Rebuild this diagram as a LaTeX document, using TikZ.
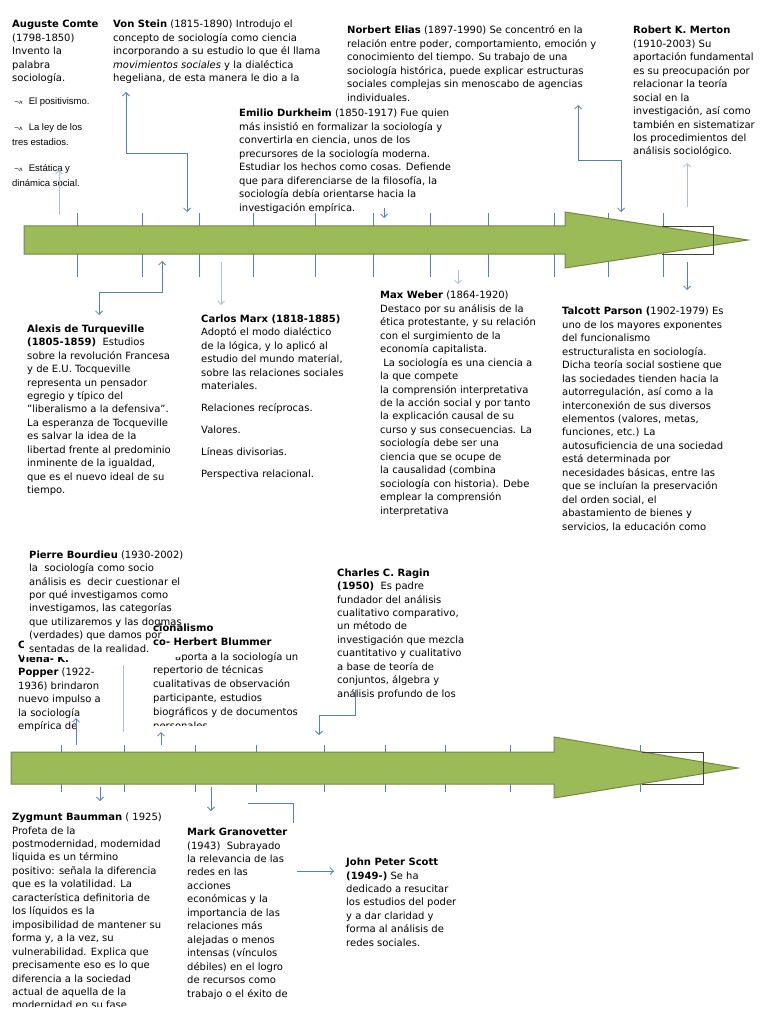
\documentclass[tikz,border=0pt]{standalone}
\usepackage{fontspec}
\setmainfont{DejaVu Sans}
\newfontfamily\arialfont{Liberation Sans}
\usetikzlibrary{arrows.meta}

\definecolor{timegreen}{HTML}{9BBB59}
\definecolor{timeedge}{HTML}{71893F}
\definecolor{linkblue}{HTML}{4F81BD}
\definecolor{paleblue}{HTML}{A9BFDC}

% small Wingdings-like list mark
\newcommand{\combul}{{\rmfamily\fontsize{6}{7}\selectfont ¬ʌ}}

\begin{document}
\begin{tikzpicture}[x=1pt, y=-1pt,
      >={Straight Barb[length=3.5pt,width=7pt]},
      txt/.style={font=\fontsize{10}{13.45}\selectfont, align=left,
                  anchor=north west, inner sep=0pt},
      bul/.style={font=\arialfont\fontsize{9.5}{15}\selectfont, align=left,
                  anchor=north west, inner sep=0pt},
      tick/.style={draw=linkblue, line width=0.7pt},
      link/.style={draw=linkblue, line width=0.8pt},
      faint/.style={draw=paleblue, line width=0.8pt},
      timeline/.style={fill=timegreen, draw=timeedge, line width=1pt},
      endbox/.style={draw=black!75, line width=0.6pt}]

    \useasboundingbox (0,0) rectangle (768,1024);

    % ===== Timeline 1 =====
    \foreach \tx in {77,142,199,253,315,373,430,488,554,608,663}
        \draw[tick] (\tx,213) -- (\tx,277);
    \path[timeline] (24,226) -- (565,226) -- (565,212) -- (748,240)
        -- (565,268) -- (565,254) -- (24,254) -- cycle;
    \draw[endbox] (662,226) -- (713,226) -- (713,254) -- (662,254);

    % ===== Above timeline 1 =====
    \node[txt] (comte) at (12,18.3) {\strut\textbf{Auguste Comte}\\(1798-1850)\\Invento la\\palabra\\sociología.};
    \node[bul] (comteList) at (12,94.3) {\strut\hspace*{2pt}\combul\hspace{6pt}El positivismo.\\[11pt]
        \hspace*{2pt}\combul\hspace{6pt}La ley de los\\tres estadios.\\[11pt]
        \hspace*{2pt}\combul\hspace{6pt}Estática y\\dinámica social.};

    \node[txt] (stein) at (113,18.3) {\strut\textbf{Von Stein} (1815-1890) Introdujo el\\
        concepto de sociología como ciencia\\
        incorporando a su estudio lo que él llama\\
        \textit{movimientos sociales} y la dialéctica\\
        hegeliana, de esta manera le dio a la};

    \node[txt] (durkheim) at (239,107.3) {\strut\textbf{Emilio Durkheim} (1850-1917) Fue quien\\
        más insistió en formalizar la sociología y\\
        convertirla en ciencia, unos de los\\
        precursores de la sociología moderna.\\
        Estudiar los hechos como cosas. Defiende\\
        que para diferenciarse de la filosofía, la\\
        sociología debía orientarse hacia la\\
        investigación empírica.};

    \node[txt] (elias) at (347,24.3) {\strut\textbf{Norbert Elias} (1897-1990) Se concentró en la\\
        relación entre poder, comportamiento, emoción y\\
        conocimiento del tiempo. Su trabajo de una\\
        sociología histórica, puede explicar estructuras\\
        sociales complejas sin menoscabo de agencias\\
        individuales.};

    \node[txt] (merton) at (633,24.3) {\strut\textbf{Robert K. Merton}\\(1910-2003) Su\\
        aportación fundamental\\es su preocupación por\\relacionar la teoría\\
        social en la\\investigación, así como\\también en sistematizar\\
        los procedimientos del\\análisis sociológico.};

    % ===== Below timeline 1 =====
    \node[txt] (turq) at (27,322.6) {\strut\textbf{Alexis de Turqueville}\\
        \textbf{(1805-1859)}~ Estudios\\
        sobre la revolución Francesa\\
        y de E.U. Tocqueville\\
        representa un pensador\\
        egregio y típico del\\
        "liberalismo a la defensiva".\\
        La esperanza de Tocqueville\\
        es salvar la idea de la\\
        libertad frente al predominio\\
        inminente de la igualdad,\\
        que es el nuevo ideal de su\\
        tiempo.};

    \node[txt] (marx) at (201,312.6) {\strut\textbf{Carlos Marx (1818-1885)}\\
        Adoptó el modo dialéctico\\
        de la lógica, y lo aplicó al\\
        estudio del mundo material,\\
        sobre las relaciones sociales\\
        materiales.\\[8.5pt]
        Relaciones recíprocas.\\[8.5pt]
        Valores.\\[8.5pt]
        Líneas divisorias.\\[8.5pt]
        Perspectiva relacional.};

    \node[txt] (weber) at (380,289.3) {\strut\textbf{Max Weber} (1864-1920)\\
        Destaco por su análisis de la\\
        ética protestante, y su relación\\
        con el surgimiento de la\\
        economía capitalista.\\
        \ La sociología es una ciencia a\\
        la que compete\\
        la comprensión interpretativa\\
        de la acción social y por tanto\\
        la explicación causal de su\\
        curso y sus consecuencias. La\\
        sociología debe ser una\\
        ciencia que se ocupe de\\
        la causalidad (combina\\
        sociología con historia). Debe\\
        emplear la comprensión\\
        interpretativa};

    \node[txt] (parson) at (562,305.3) {\strut\textbf{Talcott Parson (}1902-1979) Es\\
        uno de los mayores exponentes\\
        del funcionalismo\\
        estructuralista en sociología.\\
        Dicha teoría social sostiene que\\
        las sociedades tienden hacia la\\
        autorregulación, así como a la\\
        interconexión de sus diversos\\
        elementos (valores, metas,\\
        funciones, etc.) La\\
        autosuficiencia de una sociedad\\
        está determinada por\\
        necesidades básicas, entre las\\
        que se incluían la preservación\\
        del orden social, el\\
        abastamiento de bienes y\\
        servicios, la educación como};

    % ===== Connectors, part 1 =====
    \coordinate (comteLo) at (59,215);   \coordinate (comteHi) at (59,170);
    \coordinate (steinHi) at (126,92);   \coordinate (steinLo) at (187,212);
    \coordinate (durkHi) at (384,208);   \coordinate (durkLo) at (384,218);
    \coordinate (eliasHi) at (578,105);  \coordinate (eliasLo) at (621,212);
    \coordinate (mertLo) at (687,207);   \coordinate (mertHi) at (687,163);
    \coordinate (turqHi) at (162,261);   \coordinate (turqLo) at (99,315);
    \coordinate (marxHi) at (221,262);   \coordinate (marxLo) at (221,305);
    \coordinate (weberHi) at (458,270);  \coordinate (weberLo) at (458,284);
    \coordinate (parsHi) at (687,262);   \coordinate (parsLo) at (687,290);

    \draw[faint, ->] (comteLo) -- (comteHi);
    \draw[link, <->] (steinHi) -- ++(0,61) -| (steinLo);
    \draw[link, ->] (durkHi) -- (durkLo);
    \draw[link, <->] (eliasHi) -- ++(0,55) -| (eliasLo);
    \draw[faint, ->] (mertLo) -- (mertHi);
    \draw[link, <->] (turqHi) -- ++(0,31) -| (turqLo);
    \draw[faint, ->] (marxHi) -- (marxLo);
    \draw[faint, ->] (weberHi) -- (weberLo);
    \draw[link, ->] (parsHi) -- (parsLo);

    % ===== Timeline 2 =====
    \foreach \tx in {61,124,195,256,324,385,445,510,640}
        \draw[tick] (\tx,745) -- (\tx,792);
    \path[timeline] (11,752) -- (554,752) -- (554,737) -- (738,768)
        -- (554,798) -- (554,784) -- (11,784) -- cycle;
    \draw[endbox] (642,752) -- (703,752) -- (703,784) -- (642,784);

    % ===== Above timeline 2 =====
    \node[txt] (popper) at (18,639.3) {\strut\textbf{Círculo de}\\
        \textbf{Viena- K.}\\
        \textbf{Popper} (1922-\\
        1936) brindaron\\
        nuevo impulso a\\
        la sociología\\
        empírica de};

    \node[txt, font=\fontsize{10}{13.8}\selectfont] (blumLow) at (175,650.3) {\strut aporta a la sociología un\\
        \hspace*{-22pt}repertorio de técnicas\\
        \hspace*{-22pt}cualitativas de observación\\
        \hspace*{-22pt}participante, estudios\\
        \hspace*{-22pt}biográficos y de documentos\\
        \hspace*{-22pt}personales};
    \fill[white] (150,725.5) rectangle (300,733);

    % Bourdieu box covers its neighbours
    \fill[white] (24,545) rectangle (180,656.5);
    \node[txt] (bourdieu) at (29,548.5) {\strut\textbf{Pierre Bourdieu} (1930-2002)\\
        la~ sociología como socio\\
        análisis es~ decir cuestionar el\\
        por qué investigamos como\\
        investigamos, las categorías\\
        que utilizaremos y las dogmas\\
        (verdades) que damos por\\
        sentadas de la realidad.};

    \node[txt] (blumTop) at (153,622.3) {\strut\textbf{cionalismo}\\\textbf{co- Herbert Blummer}};

    \node[txt] (ragin) at (337,566.5) {\strut\textbf{Charles C. Ragin}\\
        \textbf{(1950)}~ Es padre\\
        fundador del análisis\\
        cualitativo comparativo,\\
        un método de\\
        investigación que mezcla\\
        cuantitativo y cualitativo\\
        a base de teoría de\\
        conjuntos, álgebra y\\
        análisis profundo de los};

    % ===== Below timeline 2 =====
    \node[txt] (baumman) at (12,811) {\strut\textbf{Zygmunt Baumman} ( 1925)\\
        Profeta de la\\
        postmodernidad, modernidad\\
        liquida es un término\\
        positivo: señala la diferencia\\
        que es la volatilidad. La\\
        característica definitoria de\\
        los líquidos es la\\
        imposibilidad de mantener su\\
        forma y, a la vez, su\\
        vulnerabilidad. Explica que\\
        precisamente eso es lo que\\
        diferencia a la sociedad\\
        actual de aquella de la\\
        modernidad en su fase};
    \fill[white] (0,1006.5) rectangle (186,1024);

    \node[txt] (grano) at (187,826) {\strut\textbf{Mark Granovetter}\\
        (1943)~ Subrayado\\
        la relevancia de las\\
        redes en las\\
        acciones\\
        económicas y la\\
        importancia de las\\
        relaciones más\\
        alejadas o menos\\
        intensas (vínculos\\
        débiles) en el logro\\
        de recursos como\\
        trabajo o el éxito de};

    \node[txt] (scott) at (346,856) {\strut\textbf{John Peter Scott}\\
        \textbf{(1949-)} Se ha\\
        dedicado a resucitar\\
        los estudios del poder\\
        y a dar claridad y\\
        forma al análisis de\\
        redes sociales.};

    % ===== Connectors, part 2 =====
    \coordinate (popLo) at (76,745);     \coordinate (popHi) at (76,718);
    \coordinate (boxHi) at (123,665);    \coordinate (boxLo) at (123,732);
    \coordinate (blumLo) at (161,745);   \coordinate (blumHi) at (161,732);
    \coordinate (raginHi) at (355,690);  \coordinate (raginLo) at (319,735);
    \coordinate (baumHi) at (100,787);   \coordinate (baumLo) at (100,801);
    \coordinate (granHi) at (211,787);   \coordinate (granLo) at (211,811);
    \coordinate (granA) at (248,803);    \coordinate (granB) at (293,823);
    \coordinate (scottA) at (297,871);   \coordinate (scottB) at (334,871);

    \draw[link, ->] (popLo) -- (popHi);
    \draw[faint] (boxHi) -- (boxLo);
    \draw[link, ->] (blumLo) -- (blumHi);
    \draw[link, ->] (raginHi) -- ++(0,25) -| (raginLo);
    \draw[link, ->] (baumHi) -- (baumLo);
    \draw[link, ->] (granHi) -- (granLo);
    \draw[link] (granA) -| (granB);
    \draw[link, ->] (scottA) -- (scottB);

\end{tikzpicture}
\end{document}
